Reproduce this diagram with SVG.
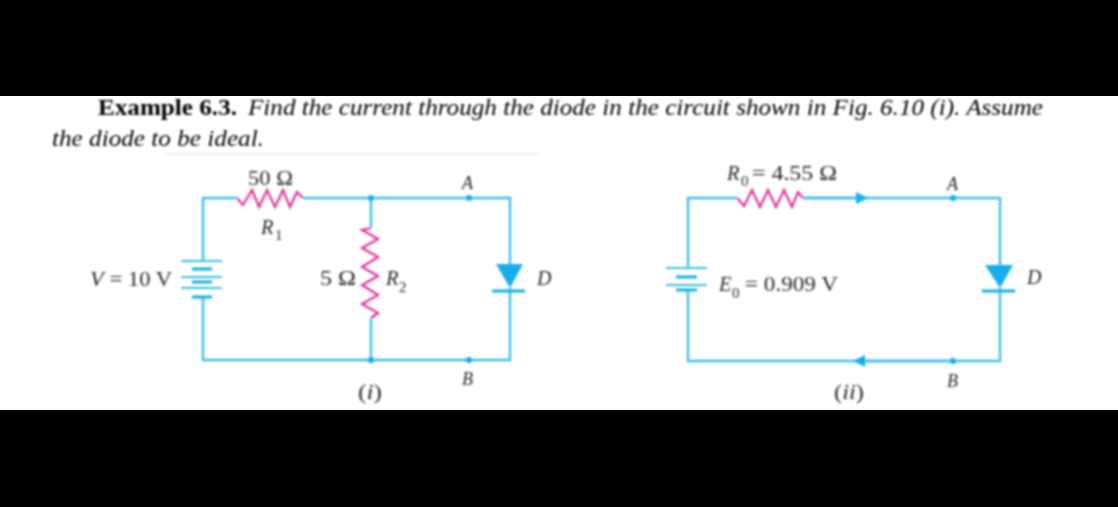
<svg xmlns="http://www.w3.org/2000/svg" width="1118" height="507" viewBox="0 0 1118 507">
<defs>
<filter id="soft" x="-5%" y="-5%" width="110%" height="110%"><feGaussianBlur stdDeviation="0.8"/></filter>
<marker id="arrow" markerUnits="userSpaceOnUse" markerWidth="12" markerHeight="12" refX="6" refY="6" orient="auto"><path d="M0 0L12 6L0 12Z" fill="#19aee8"/></marker>
</defs>
<style>
text{font-family:"Liberation Serif","Times New Roman",serif;fill:#262626}
.t{font-size:23.5px;fill:#000}
.l{font-size:20.5px}
.n{font-size:18px}
.dl{font-size:20px}
.i{font-style:italic}
.s{font-size:15px}
.w{fill:none;stroke:#3dbdea;stroke-width:2.4}
.b{fill:none;stroke:#3dbdea;stroke-width:2}
.sb{fill:none;stroke:#19aee8;stroke-width:3}
.r{fill:none;stroke:#e2329c;stroke-width:2.2}
.d{fill:#19aee8}
</style>
<rect width="1118" height="507" fill="#000"/>
<rect x="0" y="96" width="1118" height="314" fill="#fff"/>
<g filter="url(#soft)">
<g id="heading">
<text class="t" x="98" y="115" font-weight="bold" textLength="139" lengthAdjust="spacingAndGlyphs">Example 6.3.</text>
<text class="t i" x="248" y="115" textLength="795" lengthAdjust="spacingAndGlyphs">Find the current through the diode in the circuit shown in Fig. 6.10 (i).  Assume</text>
<text class="t i" x="52" y="146" textLength="212" lengthAdjust="spacingAndGlyphs">the diode to be ideal.</text>
<path d="M165 154H540" stroke="#e6e6e6" stroke-width="1.5" fill="none"/>
</g>
<g id="connectors">
<path class="w" d="M203 261V198H237M303 198H510V264M510 288V360H203V297"/>
<path class="w" d="M371 198V228M371 318V360"/>
<path class="w" d="M688 268V198H737M803 198H1000V265M1000 288V361H688V291"/>
<path class="w" marker-end="url(#arrow)" d="M803 198H862"/>
<path class="w" marker-end="url(#arrow)" d="M953 361H859"/>
</g>
<g id="battery-1">
<path class="b" d="M181 261H222M181 277H222M181 288H222"/>
<path class="sb" d="M192 269H212M192 282H212M192 297H212"/>
<text class="l" x="90" y="286" textLength="82" lengthAdjust="spacingAndGlyphs"><tspan class="i">V</tspan> = 10 V</text>
</g>
<g id="resistor-r1">
<path class="r" d="M237 198L243 205L252 190L259 207L267 190L275 207L283 190L290 207L297 192L303 198"/>
<text class="l" x="248" y="185" textLength="45" lengthAdjust="spacingAndGlyphs">50 Ω</text>
<text class="l i" x="261" y="234">R</text><text class="s" x="275" y="240">1</text>
</g>
<g id="resistor-r2">
<path class="r" d="M371 228L362 230L378 239L362 248L378 257L362 267L378 276L362 285L378 295L362 304L378 313L371 318"/>
<text class="l" x="320" y="285" textLength="36" lengthAdjust="spacingAndGlyphs">5 Ω</text>
<text class="l i" x="386" y="285">R</text><text class="s" x="399" y="292">2</text>
</g>
<g id="diode-1">
<path class="d" d="M496 264H523L510 288Z"/>
<path class="sb" d="M492 291H525"/>
<text class="dl i" x="537" y="285">D</text>
</g>
<g id="node-a1"><circle class="d" cx="469" cy="198" r="3"/><text class="n i" x="462" y="189">A</text></g>
<g id="node-j1"><circle class="d" cx="371" cy="198" r="3"/></g>
<g id="node-j2"><circle class="d" cx="371" cy="360" r="3"/></g>
<g id="node-b1"><circle class="d" cx="469" cy="360" r="3"/><text class="n i" x="462" y="385">B</text></g>
<text id="label-i" class="l" x="358" y="399" textLength="24" lengthAdjust="spacingAndGlyphs">(<tspan class="i">i</tspan>)</text>
<g id="battery-2">
<path class="b" d="M666 268H707M666 285H707"/>
<path class="sb" d="M676 277H697M676 290H697"/>
<text class="l" x="719" y="291"><tspan class="i">E</tspan></text><text class="s" x="732" y="298">0</text><text class="l" x="745" y="291" textLength="93" lengthAdjust="spacingAndGlyphs">= 0.909 V</text>
</g>
<g id="resistor-r0">
<path class="r" d="M737 198L744 206L752 190L760 207L768 190L776 207L784 190L792 207L798 192L803 198"/>
<text class="l i" x="727" y="180">R</text><text class="s" x="741" y="186">0</text><text class="l" x="752" y="180" textLength="85" lengthAdjust="spacingAndGlyphs">= 4.55 Ω</text>
</g>
<g id="diode-2">
<path class="d" d="M985 265H1013L1000 288Z"/>
<path class="sb" d="M982 291H1015"/>
<text class="dl i" x="1027" y="284">D</text>
</g>
<g id="node-a2"><circle class="d" cx="953" cy="198" r="3"/><text class="n i" x="947" y="190">A</text></g>
<g id="node-b2"><circle class="d" cx="953" cy="361" r="3"/><text class="n i" x="947" y="387">B</text></g>
<text id="label-ii" class="l" x="834" y="399" textLength="30" lengthAdjust="spacingAndGlyphs">(<tspan class="i">ii</tspan>)</text>
</g>
</svg>
